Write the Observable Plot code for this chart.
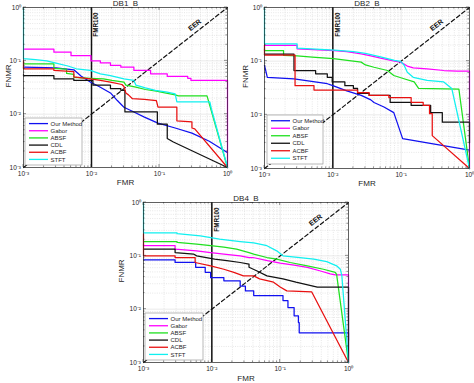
<!DOCTYPE html>
<html><head><meta charset="utf-8">
<script src="https://cdn.jsdelivr.net/npm/d3@7"></script>
<script src="https://cdn.jsdelivr.net/npm/@observablehq/plot@0.6"></script>
<style>
body{margin:0;background:#fff;}
#wrap{position:relative;width:474px;height:383px;overflow:hidden;font-family:"Liberation Sans",Arial,sans-serif;}
#wrap > div{position:absolute;}
#wrap svg{overflow:visible;}
</style></head><body><div id="wrap"></div>
<script>
// ---------- shared labels ----------
const methods = ["Our Method","Gabor","ABSF","CDL","ACBF","STFT"];
const colors  = ["#1010f0","#ff00ff","#1fe01f","#111111","#e81010","#10f0f0"];
const tickValues = [0.001,0.01,0.1,1];
const tickLabels = ["10\u207B\u00B3","10\u207B\u00B2","10\u207B\u00B9","10\u2070"];
const titles = ["DB1_B","DB2_B","DB4_B"];
const fmr100 = 0.01;
const eerEnds = [0.001, 1];

// ---------- DB1_B ----------
const db1_ours  = [[0.001,0.076],[0.003,0.074],[0.0055,0.068],[0.007,0.052],[0.0096,0.040],[0.0135,0.032],[0.019,0.025],[0.024,0.018],[0.03,0.0135],[0.042,0.011],[0.06,0.0088],[0.095,0.0068],[0.17,0.0055],[0.30,0.0044],[0.54,0.0031],[0.94,0.0020],[1,0.0019]];
const db1_gabor = [[0.001,0.165],[0.0028,0.165],[0.0028,0.145],[0.005,0.145],[0.005,0.125],[0.0098,0.125],[0.0098,0.10],[0.0135,0.10],[0.0135,0.092],[0.019,0.092],[0.019,0.082],[0.027,0.082],[0.027,0.076],[0.042,0.076],[0.042,0.066],[0.074,0.066],[0.074,0.057],[0.13,0.057],[0.13,0.051],[0.26,0.051],[0.26,0.047],[0.29,0.047],[0.29,0.043],[1,0.043],[1,0.001]];
const db1_absf  = [[0.001,0.088],[0.0028,0.088],[0.0028,0.072],[0.0043,0.07],[0.0043,0.058],[0.0055,0.056],[0.0055,0.049],[0.0096,0.047],[0.015,0.046],[0.02,0.043],[0.03,0.040],[0.032,0.035],[0.045,0.032],[0.062,0.029],[0.09,0.027],[0.12,0.025],[0.17,0.023],[0.19,0.022],[0.5,0.022],[1,0.001]];
const db1_cdl   = [[0.001,0.055],[0.001,0.053],[0.0028,0.053],[0.0028,0.046],[0.0055,0.046],[0.0055,0.043],[0.0105,0.043],[0.0105,0.035],[0.019,0.035],[0.019,0.030],[0.027,0.030],[0.027,0.028],[0.031,0.028],[0.031,0.011],[0.093,0.011],[0.093,0.0065],[0.13,0.0065],[0.13,0.0035],[0.16,0.0030],[1,0.001]];
const db1_acbf  = [[0.001,0.10],[0.001,0.071],[0.0028,0.071],[0.0028,0.066],[0.0055,0.063],[0.0055,0.05],[0.0096,0.046],[0.0135,0.043],[0.019,0.040],[0.028,0.036],[0.03,0.033],[0.032,0.025],[0.035,0.023],[0.04,0.0195],[0.06,0.019],[0.09,0.018],[0.095,0.0135],[0.18,0.0135],[0.18,0.0075],[0.30,0.0072],[0.30,0.0055],[0.33,0.0053],[1,0.001]];
const db1_stft  = [[0.001,1],[0.001,0.11],[0.0015,0.105],[0.0022,0.10],[0.0031,0.09],[0.0045,0.08],[0.006,0.071],[0.0096,0.066],[0.0135,0.057],[0.019,0.053],[0.03,0.046],[0.042,0.043],[0.045,0.035],[0.062,0.031],[0.087,0.028],[0.13,0.026],[0.17,0.024],[0.18,0.017],[0.55,0.017],[0.58,0.0125],[1,0.001]];

// ---------- DB2_B ----------
const db2_ours  = [[0.001,0.083],[0.0011,0.05],[0.0027,0.047],[0.0083,0.038],[0.01,0.035],[0.016,0.028],[0.026,0.023],[0.036,0.019],[0.04,0.017],[0.056,0.014],[0.078,0.011],[0.087,0.0073],[0.105,0.0036],[1,0.0022]];
const db2_gabor = [[0.001,0.196],[0.003,0.196],[0.003,0.17],[0.0105,0.158],[0.016,0.15],[0.026,0.137],[0.036,0.125],[0.05,0.114],[0.08,0.10],[0.098,0.096],[0.123,0.081],[0.15,0.075],[0.24,0.072],[0.42,0.067],[0.66,0.065],[1,0.065],[1,0.001]];
const db2_absf  = [[0.001,0.17],[0.001,0.158],[0.0019,0.158],[0.0019,0.128],[0.003,0.125],[0.005,0.119],[0.0102,0.111],[0.026,0.096],[0.03,0.085],[0.04,0.077],[0.063,0.067],[0.078,0.054],[0.11,0.047],[0.155,0.041],[0.18,0.031],[0.70,0.030],[1,0.001]];
const db2_cdl   = [[0.001,0.135],[0.0027,0.135],[0.0027,0.067],[0.0056,0.067],[0.0056,0.058],[0.0083,0.058],[0.0083,0.050],[0.0098,0.050],[0.0098,0.041],[0.015,0.041],[0.015,0.035],[0.02,0.035],[0.02,0.031],[0.023,0.031],[0.023,0.025],[0.034,0.025],[0.034,0.023],[0.069,0.023],[0.069,0.017],[0.14,0.017],[0.14,0.015],[0.27,0.015],[0.27,0.011],[0.40,0.011],[0.40,0.0073],[1,0.0073],[1,0.003]];
const db2_acbf  = [[0.001,0.2],[0.001,0.13],[0.0028,0.13],[0.0028,0.035],[0.0053,0.035],[0.0053,0.029],[0.023,0.029],[0.023,0.026],[0.034,0.026],[0.034,0.023],[0.066,0.023],[0.066,0.021],[0.14,0.021],[0.14,0.017],[0.21,0.017],[0.21,0.015],[0.26,0.015],[0.26,0.0105],[0.285,0.0105],[0.285,0.0041],[1,0.001]];
const db2_stft  = [[0.001,1],[0.001,0.21],[0.003,0.21],[0.003,0.175],[0.0105,0.16],[0.02,0.15],[0.03,0.14],[0.05,0.12],[0.08,0.103],[0.098,0.099],[0.11,0.085],[0.123,0.062],[0.15,0.05],[0.24,0.044],[0.42,0.041],[0.55,0.031],[1,0.001]];

// ---------- DB4_B ----------
const db4_ours  = [[0.001,0.084],[0.0029,0.084],[0.0029,0.075],[0.0058,0.075],[0.0058,0.061],[0.008,0.061],[0.008,0.049],[0.0096,0.049],[0.0096,0.039],[0.015,0.039],[0.015,0.034],[0.026,0.034],[0.026,0.027],[0.031,0.027],[0.031,0.022],[0.041,0.022],[0.041,0.018],[0.11,0.018],[0.11,0.0145],[0.13,0.0145],[0.13,0.0107],[0.16,0.0107],[0.16,0.0075],[0.185,0.0075],[0.185,0.0056],[0.19,0.0056],[0.19,0.0036],[1,0.0036],[1,0.0026]];
const db4_gabor = [[0.001,0.165],[0.001,0.155],[0.0029,0.155],[0.0029,0.133],[0.006,0.124],[0.0096,0.115],[0.015,0.108],[0.026,0.10],[0.035,0.093],[0.04,0.093],[0.065,0.081],[0.10,0.073],[0.16,0.067],[0.25,0.061],[0.39,0.052],[0.54,0.046],[0.64,0.044],[1,0.044],[1,0.001]];
const db4_absf  = [[0.001,0.185],[0.0031,0.185],[0.0031,0.178],[0.006,0.165],[0.0096,0.155],[0.015,0.145],[0.023,0.133],[0.035,0.115],[0.041,0.108],[0.064,0.093],[0.089,0.087],[0.14,0.075],[0.25,0.065],[0.43,0.056],[0.64,0.049],[0.67,0.045],[1,0.001]];
const db4_cdl   = [[0.001,0.133],[0.0029,0.133],[0.0029,0.115],[0.0054,0.108],[0.006,0.10],[0.011,0.087],[0.0166,0.081],[0.026,0.075],[0.035,0.070],[0.035,0.061],[0.046,0.052],[0.064,0.042],[0.11,0.037],[0.17,0.032],[0.35,0.026],[1,0.026],[1,0.001]];
const db4_acbf  = [[0.001,0.26],[0.001,0.10],[0.0029,0.10],[0.0029,0.093],[0.0057,0.093],[0.0057,0.075],[0.0096,0.065],[0.015,0.056],[0.021,0.049],[0.029,0.042],[0.041,0.042],[0.05,0.037],[0.08,0.032],[0.1,0.026],[0.125,0.022],[0.29,0.021],[1,0.001]];
const db4_stft  = [[0.001,1],[0.001,0.27],[0.0031,0.27],[0.0031,0.26],[0.0068,0.237],[0.013,0.205],[0.026,0.185],[0.041,0.175],[0.064,0.155],[0.089,0.124],[0.11,0.10],[0.195,0.093],[0.31,0.087],[0.48,0.078],[0.67,0.065],[0.76,0.056],[0.8,0.042],[1,0.001]];

const panels = [
  {title:titles[0], series:[db1_ours,db1_gabor,db1_absf,db1_cdl,db1_acbf,db1_stft],
   left:0, top:0, width:237, height:190, mt:7, mb:23, ml:23, mr:10, leg:[25,118,57,47], yl:15, xl:16},
  {title:titles[1], series:[db2_ours,db2_gabor,db2_absf,db2_cdl,db2_acbf,db2_stft],
   left:237, top:0, width:237, height:190, mt:7, mb:22, ml:27, mr:5, leg:[30,115,56,49], yl:19, xl:16},
  {title:titles[2], series:[db4_ours,db4_gabor,db4_absf,db4_cdl,db4_acbf,db4_stft],
   left:110, top:185, width:260, height:198, mt:17, mb:21, ml:33, mr:22, leg:[35,128,58,47], yl:22, xl:17}
];

const majors = tickValues;
const minors = d3.range(-3,0).flatMap(e => d3.range(2,10).map(m => m*Math.pow(10,e)));
const fmt = d => { const i = tickValues.indexOf(d); return i >= 0 ? tickLabels[i] : ""; };

const wrap = document.getElementById("wrap");

for (const p of panels) {
  const data = p.series.flatMap((pts,i) => pts.map(([x,y]) => ({m: methods[i], x, y})));
  const chart = Plot.plot({
    width: p.width, height: p.height,
    marginTop: p.mt, marginBottom: p.mb, marginLeft: p.ml, marginRight: p.mr,
    style: {fontFamily: '"Liberation Sans", Arial, sans-serif', fontSize: "6.5px", color: "#262626", background: "transparent"},
    x: {type: "log", domain: [0.001, 1]},
    y: {type: "log", domain: [0.001, 1]},
    color: {domain: methods, range: colors},
    marks: [
      Plot.gridX(minors, {stroke: "#cfcfcf", strokeOpacity: 1, strokeWidth: 0.5, strokeDasharray: "1,1.3"}),
      Plot.gridY(minors, {stroke: "#cfcfcf", strokeOpacity: 1, strokeWidth: 0.5, strokeDasharray: "1,1.3"}),
      Plot.gridX(majors, {stroke: "#dcdcdc", strokeOpacity: 1, strokeWidth: 0.6}),
      Plot.gridY(majors, {stroke: "#dcdcdc", strokeOpacity: 1, strokeWidth: 0.6}),
      Plot.line(eerEnds, {x: d => d, y: d => d, stroke: "#111", strokeWidth: 1.2, strokeDasharray: "4,2.6"}),
      Plot.ruleX([fmr100], {stroke: "#111", strokeWidth: 1.5}),
      Plot.line(data, {x: "x", y: "y", stroke: "m", strokeWidth: 1.25}),
      Plot.frame({stroke: "#262626", strokeWidth: 0.7}),
      Plot.axisX({ticks: majors, tickFormat: fmt, tickSize: 0, tickPadding: 4, label: null, fontSize: 6.5}),
      Plot.axisY({ticks: majors, tickFormat: fmt, tickSize: 0, tickPadding: 2.5, label: null, fontSize: 6.5}),
      Plot.text(["FMR"], {frameAnchor: "bottom", lineAnchor: "top", dy: p.xl - 4, fontSize: 8, fill: "#262626"}),
      Plot.text(["FNMR"], {frameAnchor: "left", rotate: -90, dx: -p.yl, fontSize: 8, fill: "#262626"}),
      Plot.text([p.title], {frameAnchor: "top", lineAnchor: "bottom", dy: -1.5, fontSize: 8, fill: "#262626"}),
      Plot.text(["FMR100"], {x: fmr100, frameAnchor: "top", rotate: -90, textAnchor: "end", lineAnchor: "top", dx: 2.5, dy: 5, fontSize: 6.3, fontWeight: "bold", fill: "#111"}),
      Plot.text(["EER"], {x: 0.33, y: 0.47, rotate: -38, fontSize: 7, fontWeight: "bold", fill: "#111"})
    ]
  });

  // inward tick marks (MATLAB-style box ticks)
  const sx = chart.scale("x"), sy = chart.scale("y");
  const svg = d3.select(chart);
  const x0 = p.ml, x1 = p.width - p.mr, y0 = p.mt, y1 = p.height - p.mb;
  const tg = svg.append("g").attr("stroke", "#262626").attr("stroke-width", 0.5);
  for (const v of majors.concat(minors)) {
    const len = majors.includes(v) ? 3 : 1.6;
    const px = sx.apply(v), py = sy.apply(v);
    tg.append("line").attr("x1", px).attr("x2", px).attr("y1", y1).attr("y2", y1 - len);
    tg.append("line").attr("x1", px).attr("x2", px).attr("y1", y0).attr("y2", y0 + len);
    tg.append("line").attr("y1", py).attr("y2", py).attr("x1", x0).attr("x2", x0 + len);
    tg.append("line").attr("y1", py).attr("y2", py).attr("x1", x1).attr("x2", x1 - len);
  }

  // legend box
  const [lx, ly, lw, lh] = p.leg;
  const g = svg.append("g").attr("transform", `translate(${lx},${ly})`);
  g.append("rect").attr("width", lw).attr("height", lh).attr("fill", "#fff").attr("stroke", "#8a8a8a").attr("stroke-width", 0.6);
  const step = (lh - 4) / methods.length;
  methods.forEach((m, i) => {
    const yy = 2 + step * (i + 0.5);
    g.append("line").attr("x1", 4).attr("x2", 23).attr("y1", yy).attr("y2", yy)
      .attr("stroke", colors[i]).attr("stroke-width", 1.3);
    g.append("text").attr("x", 25.5).attr("y", yy).attr("dy", "0.35em")
      .attr("text-anchor", "start")
      .attr("font-size", 6).attr("fill", "#262626").text(m);
  });

  const div = document.createElement("div");
  div.style.left = p.left + "px"; div.style.top = p.top + "px";
  div.style.width = p.width + "px"; div.style.height = p.height + "px";
  div.appendChild(chart);
  wrap.appendChild(div);
}
</script>
</body></html>
